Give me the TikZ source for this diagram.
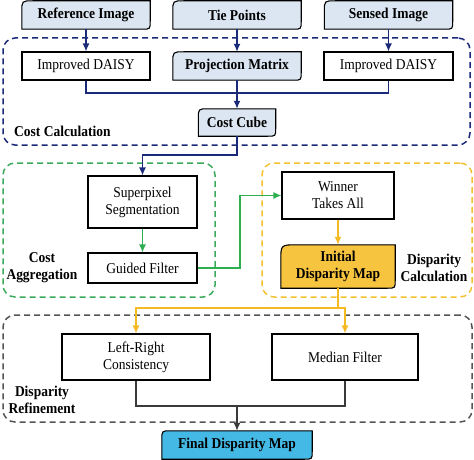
\documentclass[tikz,border=0pt]{standalone}
\usepackage{fontspec}
\setmainfont{Liberation Serif}[FakeStretch=0.9]
\usetikzlibrary{arrows.meta,backgrounds}
\definecolor{navy}{HTML}{1B2A78}
\definecolor{lightblue}{HTML}{DCE6F2}
\definecolor{grn}{HTML}{2EAE4E}
\definecolor{grndash}{HTML}{3BAA5C}
\definecolor{yel}{HTML}{F5B921}
\definecolor{yelfill}{HTML}{F7C440}
\definecolor{yeldash}{HTML}{F2C230}
\definecolor{graydash}{HTML}{555555}
\definecolor{grayarr}{HTML}{3A3A3A}
\definecolor{finalblue}{HTML}{45B9E6}
\newcommand\leafpath[4]{%
  \begin{scope}[on background layer]
    \fill[black!70, xshift=1.2pt, yshift=-1.2pt] (#1.south west) -- ([yshift=-#3]#1.north west) .. controls (#1.north west) .. ([xshift=#3]#1.north west) -- (#1.north east) -- ([yshift=#4]#1.south east) .. controls (#1.south east) .. ([xshift=-#4]#1.south east) -- cycle;
    \draw[line width=1.1pt, fill=#2] (#1.south west) -- ([yshift=-#3]#1.north west) .. controls (#1.north west) .. ([xshift=#3]#1.north west) -- (#1.north east) -- ([yshift=#4]#1.south east) .. controls (#1.south east) .. ([xshift=-#4]#1.south east) -- cycle;
  \end{scope}}
\begin{document}
\begin{tikzpicture}[x=1pt,y=-1pt,
  font=\rmfamily\fontsize{15}{17}\selectfont,
  box/.style={draw=black, line width=1.1pt, fill=white, inner sep=0pt, align=center},
  leaf/.style={inner sep=0pt, align=center, font=\rmfamily\fontsize{15}{17}\selectfont\bfseries},
  grp/.style={draw, dash pattern=on 6pt off 4pt, line width=1.5pt, rounded corners=12pt, inner sep=0pt},
  lbl/.style={inner sep=0pt, align=center, font=\rmfamily\fontsize{15}{17}\selectfont\bfseries},
  ln/.style={line width=1.4pt},
  arr/.style={line width=1.4pt, -{Latex[length=8pt,width=7pt]}}]
\useasboundingbox (0,0) rectangle (474,460);

% group boxes
\node[grp, draw=navy, minimum width=467pt, minimum height=107pt] (gcost) at (236.5,91.5) {};
\node[grp, draw=grndash, minimum width=212pt, minimum height=134pt] (gagg) at (109,230) {};
\node[grp, draw=yeldash, minimum width=210pt, minimum height=134pt] (gdisp) at (367,230) {};
\node[grp, draw=graydash, minimum width=469pt, minimum height=107pt] (gref) at (237.5,368.5) {};

% group labels
\node[lbl, anchor=west] (lcost) at (14,131) {Cost Calculation};
\node[lbl] (lagg) at (42,268) {Cost\\Aggregation};
\node[lbl] (ldisp) at (434,268) {Disparity\\Calculation};
\node[lbl] (lref) at (42,400) {Disparity\\Refinement};

% inputs
\node[leaf, minimum width=128pt, minimum height=28pt] (ref) at (86,15) {Reference Image};
\node[leaf, minimum width=128pt, minimum height=28pt] (tie) at (237,15) {Tie Points};
\node[leaf, minimum width=128pt, minimum height=28pt] (sensed) at (388.5,15) {Sensed Image};
\leafpath{ref}{lightblue}{11pt}{8pt}
\leafpath{tie}{lightblue}{11pt}{8pt}
\leafpath{sensed}{lightblue}{11pt}{8pt}

% cost calculation
\node[box, minimum width=128pt, minimum height=28pt] (daisyL) at (86,66) {Improved DAISY};
\node[leaf, minimum width=128pt, minimum height=28pt] (proj) at (237,66) {Projection Matrix};
\leafpath{proj}{lightblue}{11pt}{8pt}
\node[box, minimum width=129pt, minimum height=28pt] (daisyR) at (388.5,66) {Improved DAISY};
\node[leaf, minimum width=77pt, minimum height=27pt] (cube) at (237,122.5) {Cost Cube};
\leafpath{cube}{lightblue}{10pt}{8pt}

% aggregation
\node[box, minimum width=109pt, minimum height=52pt] (superpix) at (142.5,202) {Superpixel\\Segmentation};
\node[box, minimum width=109pt, minimum height=30pt] (guided) at (142.5,268) {Guided Filter};

% disparity calculation
\node[box, minimum width=112pt, minimum height=47pt] (winner) at (338,195.5) {Winner\\Takes All};
\node[leaf, minimum width=114pt, minimum height=43pt] (idm) at (338,266.5) {Initial\\Disparity Map};
\leafpath{idm}{yelfill}{16pt}{8pt}

% refinement
\node[box, minimum width=148pt, minimum height=46pt] (lr) at (136,357) {Left-Right\\Consistency};
\node[box, minimum width=146pt, minimum height=46pt] (median) at (345,357) {Median Filter};
\node[leaf, minimum width=150pt, minimum height=28pt] (final) at (237,445) {Final Disparity Map};
\leafpath{final}{finalblue}{9pt}{8pt}

% connectors
\coordinate (j1) at (237,93);
\coordinate (c1) at (237,155);
\coordinate (g1) at (240,268);
\coordinate (s1) at (338,308);
\coordinate (j2) at (237,406);

\draw[arr, navy] (ref) -- (daisyL);
\draw[arr, navy] (tie) -- (proj);
\draw[arr, navy] (sensed) -- (daisyR);
\draw[ln, navy] (daisyL.south) |- (j1);
\draw[ln, navy] (daisyR.south) |- (j1);
\draw[arr, navy] (proj) -- (cube);
\draw[arr, navy] (cube.south) -- (c1) -| (superpix.north);

\draw[arr, grn] (superpix) -- (guided);
\draw[arr, grn] (guided.east) -- (g1) |- (winner.west);

\draw[arr, yel] (winner) -- (idm);
\draw[ln, yel] (idm.south) -- (s1);
\draw[arr, yel] (s1) -| (lr.north);
\draw[arr, yel] (s1) -| (median.north);

\draw[ln, grayarr] (lr.south) |- (j2);
\draw[ln, grayarr] (median.south) |- (j2);
\draw[arr, grayarr] (j2) -- (final);
\end{tikzpicture}
\end{document}
